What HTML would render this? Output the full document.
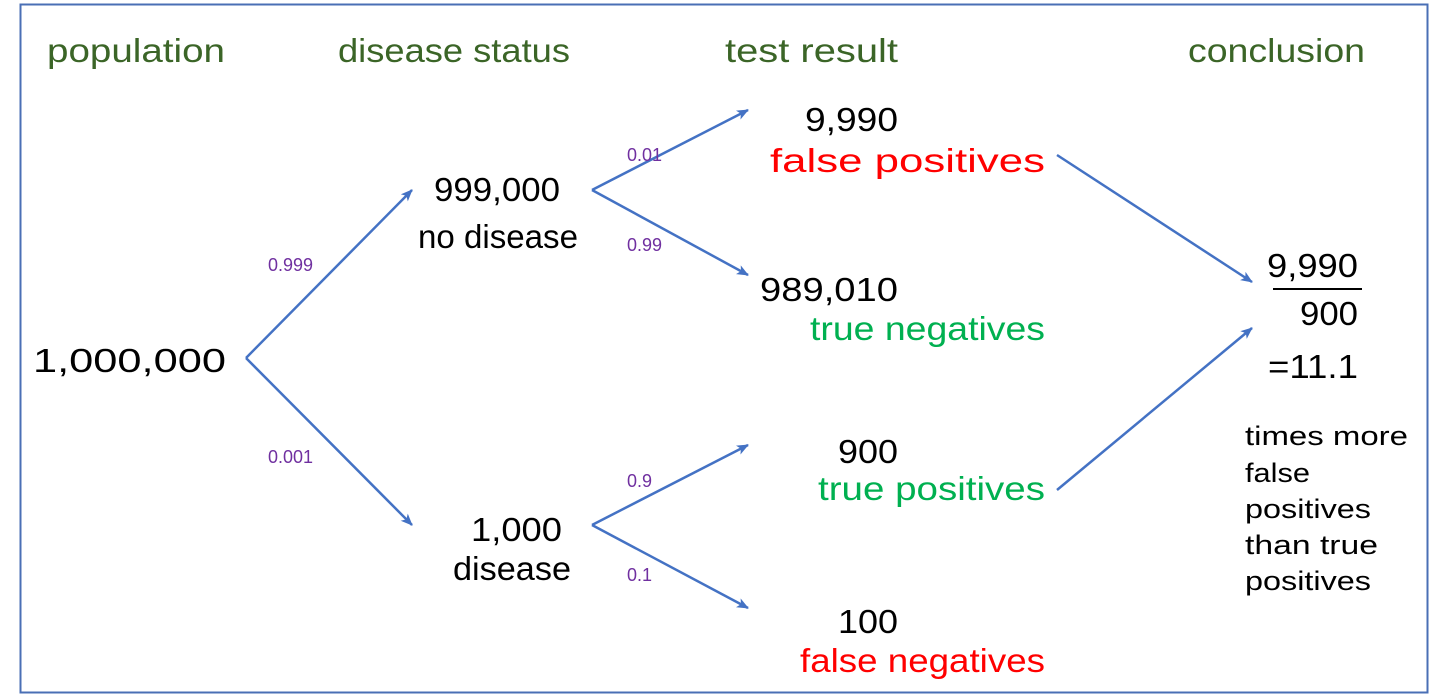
<!DOCTYPE html>
<html><head><meta charset="utf-8"><style>
html,body{margin:0;padding:0;background:#fff;width:1444px;height:698px;overflow:hidden}
text{font-family:"Liberation Sans",sans-serif}
</style></head><body>
<svg width="1444" height="698" xmlns="http://www.w3.org/2000/svg">
<defs><marker id="a" markerWidth="12" markerHeight="10" refX="11" refY="5" orient="auto" markerUnits="userSpaceOnUse"><path d="M0,0 L12,5 L0,10 L3,5 Z" fill="#4472C4"/></marker></defs>
<rect x="20.5" y="4.5" width="1407" height="688" fill="#fff" stroke="#4a6fb5" stroke-width="2"/>
<g font-size="33" fill="#3b6527">
<text x="47" y="62" textLength="178" lengthAdjust="spacingAndGlyphs">population</text>
<text x="338" y="62" textLength="232" lengthAdjust="spacingAndGlyphs">disease status</text>
<text x="725" y="62" textLength="173" lengthAdjust="spacingAndGlyphs">test result</text>
<text x="1188" y="62" textLength="177" lengthAdjust="spacingAndGlyphs">conclusion</text>
</g>
<g stroke="#4472C4" stroke-width="2.5" fill="none" marker-end="url(#a)">
<line x1="246" y1="358" x2="412" y2="190"/>
<line x1="246" y1="358" x2="412" y2="525"/>
<line x1="592" y1="190" x2="748" y2="110"/>
<line x1="592" y1="190" x2="748" y2="275"/>
<line x1="592" y1="525" x2="748" y2="445"/>
<line x1="592" y1="525" x2="748" y2="608"/>
<line x1="1057" y1="155" x2="1252" y2="282"/>
<line x1="1057" y1="490" x2="1252" y2="328"/>
</g>
<g font-size="33" fill="#000">
<text x="805" y="131" textLength="93" lengthAdjust="spacingAndGlyphs">9,990</text>
<text x="434" y="201" textLength="126" lengthAdjust="spacingAndGlyphs">999,000</text>
<text x="418" y="248" textLength="160" lengthAdjust="spacingAndGlyphs">no disease</text>
<text x="760" y="301" textLength="138" lengthAdjust="spacingAndGlyphs">989,010</text>
<text x="33" y="372" textLength="193" lengthAdjust="spacingAndGlyphs">1,000,000</text>
<text x="838" y="463" textLength="60" lengthAdjust="spacingAndGlyphs">900</text>
<text x="471" y="541" textLength="91" lengthAdjust="spacingAndGlyphs">1,000</text>
<text x="453" y="580" textLength="118" lengthAdjust="spacingAndGlyphs">disease</text>
<text x="838" y="633" textLength="60" lengthAdjust="spacingAndGlyphs">100</text>
<text x="1267" y="277" textLength="91" lengthAdjust="spacingAndGlyphs">9,990</text>
<text x="1300" y="325" textLength="58" lengthAdjust="spacingAndGlyphs">900</text>
<text x="1268" y="378" textLength="90" lengthAdjust="spacingAndGlyphs">=11.1</text>
</g>
<line x1="1273" y1="289" x2="1362" y2="289" stroke="#000" stroke-width="2"/>
<g font-size="33">
<text x="770" y="172" fill="#ff0000" textLength="275" lengthAdjust="spacingAndGlyphs">false positives</text>
<text x="810" y="340" fill="#00b050" textLength="235" lengthAdjust="spacingAndGlyphs">true negatives</text>
<text x="818" y="500" fill="#00b050" textLength="227" lengthAdjust="spacingAndGlyphs">true positives</text>
<text x="800" y="672" fill="#ff0000" textLength="245" lengthAdjust="spacingAndGlyphs">false negatives</text>
</g>
<g font-size="27" fill="#000">
<text x="1245" y="445" textLength="163" lengthAdjust="spacingAndGlyphs">times more</text>
<text x="1245" y="482" textLength="65" lengthAdjust="spacingAndGlyphs">false</text>
<text x="1245" y="518" textLength="126" lengthAdjust="spacingAndGlyphs">positives</text>
<text x="1245" y="554" textLength="133" lengthAdjust="spacingAndGlyphs">than true</text>
<text x="1245" y="590" textLength="126" lengthAdjust="spacingAndGlyphs">positives</text>
</g>
<g font-size="18" fill="#7030a0">
<text x="627" y="161">0.01</text>
<text x="627" y="251">0.99</text>
<text x="268" y="271">0.999</text>
<text x="268" y="463">0.001</text>
<text x="627" y="487">0.9</text>
<text x="627" y="581">0.1</text>
</g>
</svg>
</body></html>
